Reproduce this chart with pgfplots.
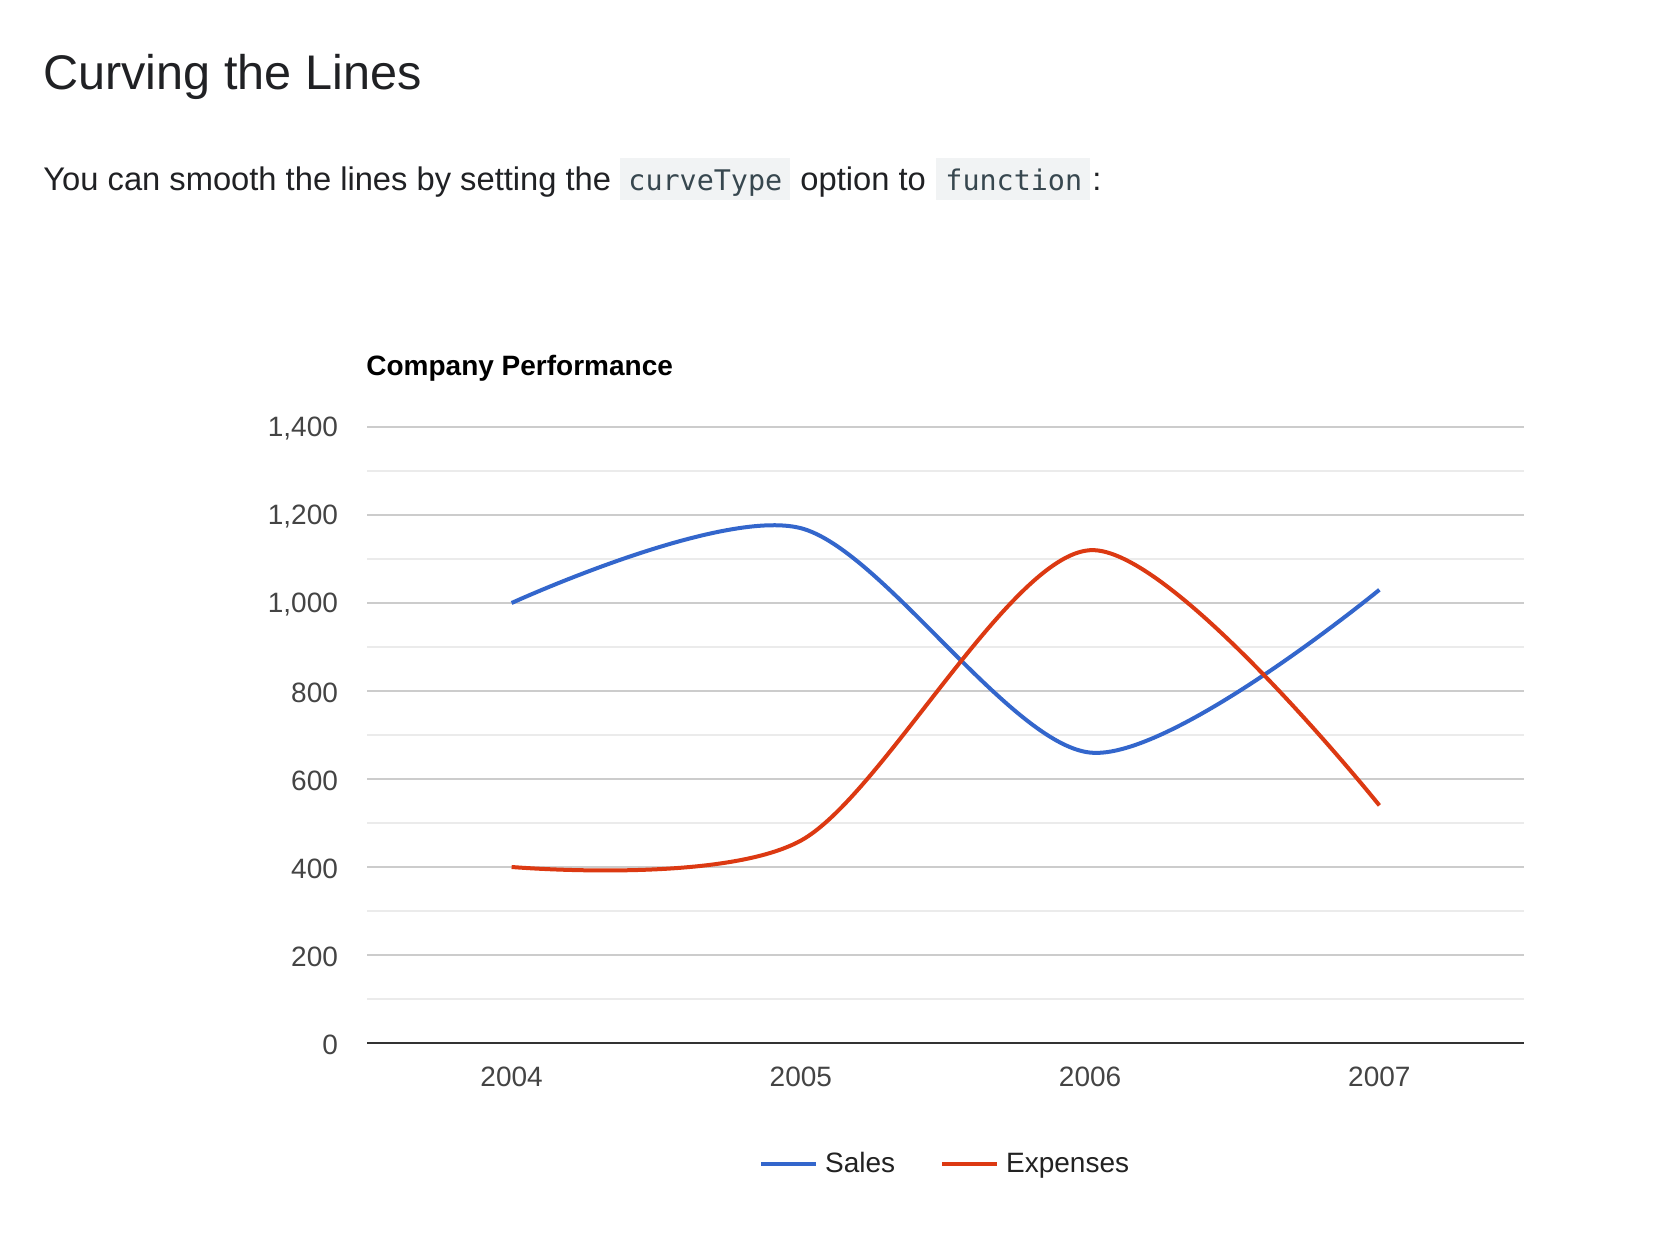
\documentclass[border=0pt]{standalone}
\usepackage{fontspec}
\setmainfont{Liberation Sans}
\newfontfamily\codefont{DejaVu Sans Mono}
\usepackage{pgfplots}
\pgfplotsset{compat=1.18}
\definecolor{sales}{HTML}{3366CC}
\definecolor{expenses}{HTML}{DC3912}
\definecolor{gridmaj}{HTML}{CCCCCC}
\definecolor{gridmin}{HTML}{EBEBEB}
\definecolor{axisc}{HTML}{333333}
\definecolor{tickc}{HTML}{444444}
\definecolor{legc}{HTML}{222222}
\definecolor{textc}{HTML}{202124}
\definecolor{codec}{HTML}{37474F}
\definecolor{codebg}{HTML}{F1F3F4}
\begin{document}
\begin{tikzpicture}[x=1pt,y=1pt]
\path[use as bounding box] (0,0) rectangle (840,617);
\fill[white] (0,0) rectangle (840,617);
% page heading
\node[anchor=base west, inner sep=0pt, text=textc, font=\fontsize{24.3}{28}\selectfont] at (21.5,572) {Curving the Lines};
% paragraph with code spans
\fill[codebg] (310,517) rectangle (395,538);
\fill[codebg] (468,517) rectangle (545,538);
\node[anchor=base west, inner sep=0pt, text=textc, font=\fontsize{16.35}{19}\selectfont] at (21.5,521.5) {You can smooth the lines by setting the};
\node[anchor=base west, inner sep=0pt, text=codec, font=\codefont\fontsize{14.2}{16}\selectfont] at (314,521.5) {curveType};
\node[anchor=base west, inner sep=0pt, text=textc, font=\fontsize{16.35}{19}\selectfont] at (400,521.5) {option to};
\node[anchor=base west, inner sep=0pt, text=codec, font=\codefont\fontsize{14.2}{16}\selectfont] at (472.5,521.5) {function};
\node[anchor=base west, inner sep=0pt, text=textc, font=\fontsize{16.35}{19}\selectfont] at (546,521.5) {:};
% chart title
\node[anchor=base west, inner sep=0pt, text=black, font=\bfseries\fontsize{14}{16}\selectfont] at (183,429) {Company Performance};
\begin{axis}[
  at={(183.5pt,95.5pt)}, anchor=south west,
  scale only axis, width=578.5pt, height=308pt,
  xmin=-0.5, xmax=3.5, ymin=0, ymax=1400,
  axis line style={draw=none},
  tick style={draw=none},
  major tick length=0pt, minor tick length=0pt,
  xtick={0,1,2,3}, xticklabels={2004,2005,2006,2007},
  ytick={0,200,...,1400},
  yticklabels={0,200,400,600,800,{1,000},{1,200},{1,400}},
  minor ytick={100,300,...,1300},
  ymajorgrids, yminorgrids,
  major grid style={draw=gridmaj, line width=1pt},
  minor grid style={draw=gridmin, line width=1pt},
  extra y ticks={0}, extra y tick labels={},
  extra y tick style={grid=major, major grid style={draw=axisc, line width=1.2pt}},
  ticklabel style={font=\fontsize{14}{16}\selectfont, text=tickc},
  yticklabel style={xshift=-11pt, yshift=-0.8pt},
  xticklabel style={yshift=-8.5pt},
  legend columns=2,
  legend image code/.code={\draw[#1, line width=2pt] (0pt,0pt) -- (27.5pt,0pt);},
  legend style={draw=none, fill=none, at={(0.4988,-0.197)}, anchor=center,
    font=\fontsize{14}{16}\selectfont, text=legc,
    nodes={inner sep=0pt},
    /tikz/every odd column/.append style={column sep=3.5pt},
    /tikz/every even column/.append style={column sep=22.5pt}},
]
\addplot[sales, line width=2pt, smooth, tension=0.5, line join=round] coordinates {(0,1000) (1,1170) (2,660) (3,1030)};
\addlegendentry{Sales}
\addplot[expenses, line width=2pt, smooth, tension=0.5, line join=round] coordinates {(0,400) (1,460) (2,1120) (3,540)};
\addlegendentry{Expenses}
\end{axis}
\end{tikzpicture}
\end{document}
